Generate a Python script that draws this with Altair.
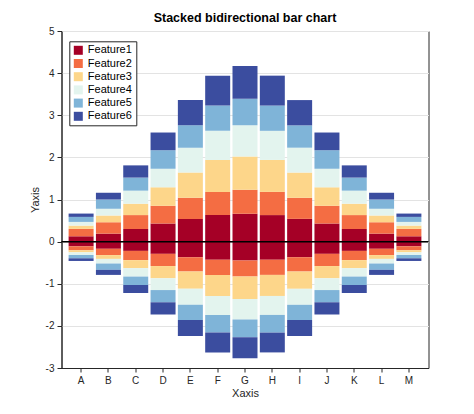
import altair as alt
import pandas as pd

categories = list("ABCDEFGHIJKLM")
features = ["Feature1", "Feature2", "Feature3", "Feature4", "Feature5", "Feature6"]
colors = ["#a50026", "#f46d43", "#fdd68a", "#e3f4ee", "#7fb4d8", "#3b4d9f"]

# positive (upward) segment heights, A..M
pos_f1 = [0.127, 0.19, 0.30, 0.43, 0.54, 0.63, 0.66, 0.63, 0.54, 0.43, 0.30, 0.19, 0.127]
pos_f2 = [0.175, 0.27, 0.33, 0.42, 0.50, 0.55, 0.57, 0.55, 0.50, 0.42, 0.33, 0.27, 0.175]
pos_f3 = [0.079, 0.16, 0.27, 0.44, 0.60, 0.76, 0.79, 0.76, 0.60, 0.44, 0.27, 0.16, 0.079]
pos_f4 = [0.087, 0.16, 0.31, 0.44, 0.59, 0.69, 0.74, 0.69, 0.59, 0.44, 0.31, 0.16, 0.087]
pos_f5 = [0.119, 0.22, 0.31, 0.44, 0.53, 0.60, 0.63, 0.60, 0.53, 0.44, 0.31, 0.22, 0.119]
pos_f6 = [0.079, 0.16, 0.29, 0.42, 0.60, 0.71, 0.78, 0.71, 0.60, 0.42, 0.29, 0.16, 0.079]

# negative (downward) segment heights, A..M
neg_f1 = [0.111, 0.17, 0.22, 0.29, 0.37, 0.43, 0.45, 0.43, 0.37, 0.29, 0.22, 0.17, 0.111]
neg_f2 = [0.095, 0.15, 0.22, 0.29, 0.34, 0.36, 0.38, 0.36, 0.34, 0.29, 0.22, 0.15, 0.095]
neg_f3 = [0.048, 0.09, 0.19, 0.29, 0.41, 0.50, 0.53, 0.50, 0.41, 0.29, 0.19, 0.09, 0.048]
neg_f4 = [0.063, 0.11, 0.20, 0.28, 0.38, 0.45, 0.49, 0.45, 0.38, 0.28, 0.20, 0.11, 0.063]
neg_f5 = [0.079, 0.15, 0.20, 0.29, 0.36, 0.42, 0.42, 0.42, 0.36, 0.29, 0.20, 0.15, 0.079]
neg_f6 = [0.063, 0.12, 0.19, 0.29, 0.38, 0.47, 0.50, 0.47, 0.38, 0.29, 0.19, 0.12, 0.063]

pos = [pos_f1, pos_f2, pos_f3, pos_f4, pos_f5, pos_f6]
neg = [neg_f1, neg_f2, neg_f3, neg_f4, neg_f5, neg_f6]

rows = []
for fi, f in enumerate(features):
    for ci, c in enumerate(categories):
        rows.append({"cat": c, "feature": f, "fi": fi, "value": pos[fi][ci]})
        rows.append({"cat": c, "feature": f, "fi": fi, "value": -neg[fi][ci]})
df = pd.DataFrame(rows)

FONT = "Liberation Sans"
AX = "#262626"

bars = alt.Chart(df).mark_bar().encode(
    x=alt.X("cat:N", sort=categories,
            scale=alt.Scale(paddingInner=0.085, paddingOuter=0.26),
            axis=alt.Axis(title="Xaxis", labelAngle=0, grid=False, tickSize=4,
                          labelPadding=3, titlePadding=2)),
    y=alt.Y("value:Q", stack="zero",
            scale=alt.Scale(domain=[-3, 5], nice=False, zero=False),
            axis=alt.Axis(title="Yaxis", values=list(range(-3, 6)),
                          labelExpr="datum.value + ''", grid=True,
                          gridColor="#e3e3e3", tickSize=4.5, labelPadding=3,
                          titlePadding=5)),
    color=alt.Color("feature:N",
                    scale=alt.Scale(domain=features, range=colors),
                    legend=alt.Legend(title=None, orient="none", legendX=7.8, legendY=10.3,
                                      symbolType="square", symbolSize=81,
                                      symbolStrokeWidth=0, labelFontSize=11,
                                      labelFont=FONT, labelColor="black",
                                      padding=3.5, strokeColor=AX, fillColor="white",
                                      rowPadding=1.2, labelOffset=4)),
    order=alt.Order("fi:Q", sort="ascending"),
)

zero = alt.Chart(pd.DataFrame({"y": [0]})).mark_rule(color="black", strokeWidth=1.5).encode(
    y=alt.Y("y:Q")
)

chart = alt.layer(bars, zero).properties(
    width=367, height=337,
    title=alt.TitleParams("Stacked bidirectional bar chart", fontSize=12.5,
                          fontWeight="bold", font=FONT, color="black",
                          offset=2, anchor="middle"),
    autosize=alt.AutoSizeParams(type="none"),
    padding={"left": 53.5, "top": 23, "right": 37, "bottom": 38},
).configure_view(
    stroke=AX, strokeWidth=1
).configure_axis(
    domainColor=AX, tickColor=AX, labelColor=AX, titleColor=AX,
    labelFont=FONT, titleFont=FONT, labelFontSize=10, titleFontSize=11,
    titleFontWeight="normal"
)

chart.save("out.html", embed_options={"renderer": "svg", "actions": False})
